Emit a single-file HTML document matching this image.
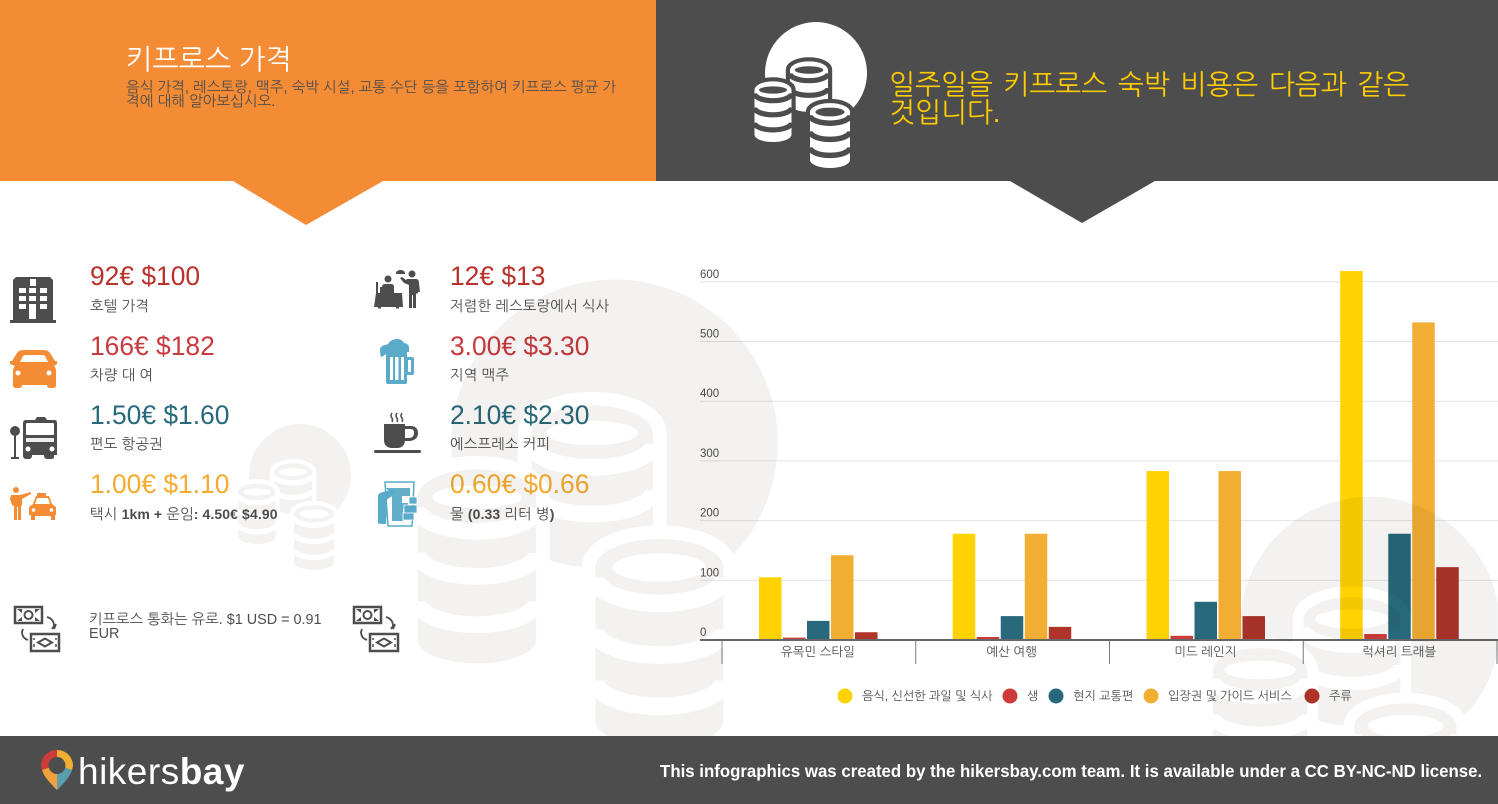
<!DOCTYPE html>
<html lang="ko">
<head>
<meta charset="utf-8">
<title>키프로스 가격</title>
<style>
html,body{margin:0;padding:0;background:#fff;}
#page{position:relative;width:1498px;height:804px;overflow:hidden;background:#fff;font-family:"Liberation Sans","NanumGothic","Noto Sans CJK KR",sans-serif;}
#page>*{position:absolute;}
.t{position:absolute;white-space:nowrap;}
.price{font-size:26.400px;line-height:30px;}
.lbl{font-size:14.500px;line-height:18px;color:#4d4d4d;letter-spacing:.1px;}
.lbl b{font-weight:bold;font-size:14px;}
#icons,#chart,#wm{left:0;top:0;}
#wm{mix-blend-mode:multiply;pointer-events:none;}
</style>
</head>
<body>
<div id="page">
  <div style="left:0;top:0;width:656px;height:181px;background:#f48b35"></div>
  <div style="left:656px;top:0;width:842px;height:181px;background:#4d4d4d"></div>

  <svg id="icons" width="1498" height="804" viewBox="0 0 1498 804">
    <defs>
      <g id="coin-back">
        <path d="M790,70V104.400A19,7.500 0 0 0 828,104.400V70A19,8.600 0 0 0 790,70Z" style="fill:var(--a);stroke:var(--b)" stroke-width="8.400" paint-order="stroke"/>
        <path d="M790,73.400A19,7.300 0 0 0 828,73.400M790,88A19,7.300 0 0 0 828,88" fill="none" style="stroke:var(--b)" stroke-width="5.200"/>
        <ellipse cx="809" cy="70" rx="14.300" ry="3.800" style="fill:var(--b)"/>
      </g>
      <g id="coins">
        <path d="M778.400,107.500A51,51 0 1 1 853.600,107.500Z" style="fill:var(--a)"/>
        <use href="#coin-back"/>
        <path d="M754.500,90V134.700A18.500,7.300 0 0 0 791.500,134.700V90A18.500,8.600 0 0 0 754.500,90Z" style="fill:var(--a);stroke:var(--b)" stroke-width="8.400" paint-order="stroke"/>
        <path d="M754.500,93.400A18.500,7.300 0 0 0 791.500,93.400M754.500,107.500A18.500,7.300 0 0 0 791.500,107.500M754.500,122.600A18.500,7.300 0 0 0 791.500,122.600" fill="none" style="stroke:var(--b)" stroke-width="5.200"/>
        <ellipse cx="773" cy="90" rx="14" ry="3.600" style="fill:var(--b)"/>
        <path d="M810,112V160A20,8 0 0 0 850,160V112A20,8.900 0 0 0 810,112Z" style="fill:var(--a);stroke:var(--b)" stroke-width="8.400" paint-order="stroke"/>
        <path d="M810,115.200A20,8 0 0 0 850,115.200M810,131.400A20,8 0 0 0 850,131.400M810,147.400A20,8 0 0 0 850,147.400" fill="none" style="stroke:var(--b)" stroke-width="5.500"/>
        <ellipse cx="830" cy="112" rx="14.600" ry="4.400" style="fill:var(--b)"/>
      </g>
      <g id="coins-cropped">
        <path d="M778.400,107.500A51,51 0 1 1 866.200,64L866.200,82A51,51 0 0 1 853.600,107.500Z" style="fill:var(--a)"/>
        <use href="#coin-back"/>
        <path d="M754.500,90V130H791.500V90A18.500,8.600 0 0 0 754.500,90Z" style="fill:var(--a);stroke:var(--b)" stroke-width="8.400" paint-order="stroke"/>
        <path d="M754.500,93.400A18.500,7.300 0 0 0 791.500,93.400M754.500,107.500A18.500,7.300 0 0 0 791.500,107.500" fill="none" style="stroke:var(--b)" stroke-width="5.200"/>
        <ellipse cx="773" cy="90" rx="14" ry="3.600" style="fill:var(--b)"/>
        <path d="M810,112V130H850V112A20,8.900 0 0 0 810,112Z" style="fill:var(--a);stroke:var(--b)" stroke-width="8.400" paint-order="stroke"/>
        <path d="M810,115.200A20,8 0 0 0 850,115.200" fill="none" style="stroke:var(--b)" stroke-width="5.500"/>
        <ellipse cx="830" cy="112" rx="14.600" ry="4.400" style="fill:var(--b)"/>
      </g>
      <g id="money">
        <rect x="15" y="607" width="27" height="16" fill="none" stroke="#4d4d4d" stroke-width="2.500"/>
        <circle cx="28.500" cy="615" r="4" fill="none" stroke="#4d4d4d" stroke-width="2"/>
        <path d="M17,609l5,4v-4zM40,609l-5,4v-4zM17,621l5,-4v4zM40,621l-5,-4v4z" fill="#4d4d4d"/>
        <rect x="31" y="634" width="28" height="17" fill="none" stroke="#4d4d4d" stroke-width="2.500"/>
        <path d="M38,642.500l7,-4l7,4l-7,4z" fill="none" stroke="#4d4d4d" stroke-width="2"/>
        <path d="M34,638v2M34,644v3M56,638v2M56,644v3" stroke="#4d4d4d" stroke-width="1.500"/>
        <path d="M47,617q7,2 7,9l-2,3M56,624l-2,5" fill="none" stroke="#4d4d4d" stroke-width="1.800"/>
        <path d="M28,640q-6,-2 -6,-8l1,-3" fill="none" stroke="#4d4d4d" stroke-width="1.800"/>
      </g>
    </defs>
    <polygon points="233,181 383,181 306,225" fill="#f48b35"/>
    <polygon points="1010,181 1155,181 1082,223" fill="#4d4d4d"/>
    <g style="--a:#fff;--b:#4d4d4d"><use href="#coins"/></g>

    <g fill="#4d4d4d">
      <path d="M13,322V280l3,-3H50l3,3V322Z"/><rect x="10" y="320" width="46" height="3"/>
      <g fill="#fff">
        <rect x="19" y="288" width="7" height="5"/><rect x="29" y="288" width="7" height="5"/><rect x="40" y="288" width="7" height="5"/>
        <rect x="19" y="296" width="7" height="5"/><rect x="29" y="296" width="7" height="5"/><rect x="40" y="296" width="7" height="5"/>
        <rect x="19" y="304" width="7" height="5"/><rect x="40" y="304" width="7" height="5"/><rect x="29" y="304" width="7" height="15"/>
        <rect x="30" y="279" width="6" height="7"/>
      </g>
    </g>
    <g fill="#f48b35">
      <path d="M12,361l5,-8q2,-3 6,-3h21q4,0 6,3l5,8l2,0v3l-3,2q2,2 2,5v14q0,3 -3,3h-3q-3,0 -3,-3H22q0,3 -3,3h-3q-3,0 -3,-3V371q0,-3 2,-5l-5,-2v-3z"/>
      <path d="M20,362l3,-6q1,-1 3,-1h16q2,0 3,1l3,6z" fill="#fff"/>
      <circle cx="18" cy="373" r="2.500" fill="#fff"/><circle cx="49" cy="373" r="2.500" fill="#fff"/>
    </g>
    <g fill="#4d4d4d">
      <circle cx="15" cy="431" r="5"/><rect x="14" y="434" width="2" height="24"/><rect x="11" y="457" width="8" height="2"/>
      <path d="M26,420h9l2,-3h8l2,3h8q2,0 2,3v32h-3v2q0,2 -3,2h-4q-3,0 -3,-4H32q0,4 -3,4h-3q-3,0 -3,-4V423q0,-3 3,-3z"/>
      <rect x="26" y="423" width="28" height="12" rx="1" fill="#fff"/>
      <path d="M26,438h28v4H26z" fill="#fff" opacity=".9"/>
      <circle cx="28" cy="449" r="2.500" fill="#fff"/><circle cx="52" cy="449" r="2.500" fill="#fff"/>
    </g>
    <g fill="#f48b35">
      <circle cx="16" cy="490" r="3"/>
      <path d="M11,495h9l11,-3v2l-9,5v6l-1,1v14h-3v-13h-1v13h-3v-14l-2,-1l-2,-6z"/>
      <path d="M37,493h9v3h3l3,8l4,3v8h-1v5h-4v-4H35v4h-4v-5h-2v-8l4,-3l3,-8h1z"/>
      <path d="M37,498h11l2,6H35z" fill="#fff"/><circle cx="33.500" cy="510" r="1.800" fill="#fff"/><circle cx="51.500" cy="510" r="1.800" fill="#fff"/>
    </g>
    <g fill="#4d4d4d">
      <path d="M376,293H402L403,307H374Z"/><rect x="378" y="307" width="3" height="1.500"/><rect x="396" y="307" width="3" height="1.500"/>
      <circle cx="388" cy="279" r="3.500"/><path d="M382,293v-6q0,-3 3,-3h6q3,0 3,3v6z"/>
      <rect x="376" y="282" width="2" height="11"/><rect x="380" y="287" width="2" height="6"/>
      <path d="M396,273a4.500,3 0 0 1 9,0z"/><rect x="396" y="273" width="9" height="1"/>
      <circle cx="412" cy="274" r="3.500"/>
      <path d="M407,279h9q3,0 3,4l1,9h-2v1l-2,1v14h-3v-13h-1v13h-3v-23l-5,-2l-4,-5l2,-1l4,3z"/>
    </g>
    <g fill="#5aabc9">
      <path d="M380,350q0,-4 5,-5q1,0 3,-1q3,-5 9,-5q5,0 7,4q4,0 5,4v5H386v2q-2,2 -5,3q-1,-3 -1,-7z"/>
      <path d="M386,352H407V357H412q2,0 2,2V373q0,2 -2,2H407V382q0,2 -2,2H388q-2,0 -2,-2Z"/>
      <g fill="#fff"><rect x="390" y="357" width="3" height="23"/><rect x="395" y="357" width="3.500" height="23"/><rect x="401" y="357" width="3" height="23"/><rect x="408" y="360" width="3" height="12"/></g>
    </g>
    <g fill="#4d4d4d">
      <path d="M384,424H405V426H412Q418,427 418,433Q418,440 410,441H405Q404,448 397,448H391Q384,447 384,440Z"/>
      <path d="M405,429h6q3,0 3,4q0,4 -4,5h-5z" fill="#fff"/>
      <rect x="374" y="450" width="47" height="3" rx="1.500"/>
      <path d="M392,413q-2,3 0,5q1,2 0,4M397,413q-2,3 0,5q1,2 0,4M402,413q-2,3 0,5q1,2 0,4" fill="none" stroke="#4d4d4d" stroke-width="1.500"/>
    </g>
    <g>
      <path d="M385,482H414L412,526H388Z" fill="none" stroke="#5aabc9" stroke-width="1.500"/>
      <path d="M378,495q3,-3 5,-3l12,-3v5q-3,2 -4,3q-5,2 -4,5l-1,22q-8,0 -8,-1z" fill="#5aabc9"/>
      <path d="M386,488h24v8h-8v7h6v6h-5v12h-11v-25z" fill="#5aabc9" opacity=".95"/>
      <path d="M409,497h8v7h-8zM404,505h13v8h-13zM403,513h11v7h-11z" fill="#5aabc9" stroke="#fff" stroke-width=".8"/>
    </g>
    <g><use href="#money"/></g>
    <g transform="translate(339,0)"><use href="#money"/></g>
  </svg>

  <div class="t" style="left:126px;top:45px;font-size:28px;line-height:30px;color:#fff">키프로스 가격</div>
  <div class="t" style="left:126px;top:81px;width:494px;font-size:14.600px;line-height:14px;color:#4d4d4d;white-space:normal;word-break:break-all">음식 가격, 레스토랑, 맥주, 숙박 시설, 교통 수단 등을 포함하여 키프로스 평균 가격에 대해 알아보십시오.</div>
  <div class="t" style="left:889px;top:71px;width:525px;font-size:27.600px;line-height:28px;word-spacing:3px;color:#ffcc00;white-space:normal">일주일을 키프로스 숙박 비용은 다음과 같은 것입니다.</div>

  <div class="t price" style="left:90px;top:261px;color:#b8322a">92€ $100</div>
  <div class="t lbl" style="left:90px;top:298px">호텔 가격</div>
  <div class="t price" style="left:90px;top:331px;color:#c93a3e">166€ $182</div>
  <div class="t lbl" style="left:90px;top:367px">차량 대 여</div>
  <div class="t price" style="left:90px;top:400px;color:#27697a">1.50€ $1.60</div>
  <div class="t lbl" style="left:90px;top:436px">편도 항공권</div>
  <div class="t price" style="left:90px;top:469px;color:#f4ab2f">1.00€ $1.10</div>
  <div class="t lbl" style="left:90px;top:505px">택시 <b>1km +</b> 운임<b>: 4.50€ $4.90</b></div>

  <div class="t price" style="left:450px;top:261px;color:#b8322a">12€ $13</div>
  <div class="t lbl" style="left:450px;top:298px">저렴한 레스토랑에서 식사</div>
  <div class="t price" style="left:450px;top:331px;color:#c93a3e">3.00€ $3.30</div>
  <div class="t lbl" style="left:450px;top:367px">지역 맥주</div>
  <div class="t price" style="left:450px;top:400px;color:#27697a">2.10€ $2.30</div>
  <div class="t lbl" style="left:450px;top:436px">에스프레소 커피</div>
  <div class="t price" style="left:450px;top:469px;color:#f4ab2f">0.60€ $0.66</div>
  <div class="t lbl" style="left:450px;top:505px">물 <b>(0.33</b> 리터 병<b>)</b></div>

  <div class="t" style="left:89px;top:613px;width:240px;font-size:14.400px;line-height:14px;color:#4d4d4d;white-space:normal">키프로스 통화는 유로. $1 USD = 0.91 EUR</div>

  <svg id="chart" width="1498" height="804" viewBox="0 0 1498 804"></svg>

  <svg id="wm" width="1498" height="736" viewBox="0 0 1498 736" style="--a:#f3f2f1;--b:#fff">
    <g transform="translate(-516,402)"><use href="#coins"/></g>
    <g transform="translate(-1996.600,209) scale(3.200)"><use href="#coins"/></g>
    <g transform="translate(-711,440.500) scale(2.550)"><use href="#coins-cropped"/></g>
  </svg>

  <div style="left:0;top:736px;width:1498px;height:68px;background:#4d4d4d"></div>
  <svg style="left:41px;top:750px" width="32" height="41" viewBox="0 0 32 41">
    <path d="M16,0C7,0 0,7 0,16Q0,18 1,20L16,15Z" fill="#cc3a3a"/>
    <path d="M16,0C25,0 32,7 32,16L31,20L16,15Z" fill="#f2ae33"/>
    <path d="M1,20C3,27 10,34 16,40V15Z" fill="#f2a23c"/>
    <path d="M31,20C29,27 22,34 16,40V15Z" fill="#5a9dab"/>
    <circle cx="16" cy="15.500" r="8.500" fill="#4d4d4d"/>
  </svg>
  <div class="t" style="left:78px;top:747px;font-size:37px;line-height:50px;color:#fff;letter-spacing:.5px">hikers<b>bay</b></div>
  <div class="t" style="right:16px;top:760px;font-size:17.400px;line-height:22px;color:#fff;font-weight:bold;transform:scaleX(.967);transform-origin:right center">This infographics was created by the hikersbay.com team. It is available under a CC BY-NC-ND license.</div>
</div>

<script>
var categories = ['유목민 스타일', '예산 여행', '미드 레인지', '럭셔리 트래블'];
var seriesNames = ['음식, 신선한 과일 및 식사', '생', '현지 교통편', '입장권 및 가이드 서비스', '주류'];
var foodValues = [105, 178, 283, 618];
var beerValues = [4, 5, 7, 10];
var transportValues = [32, 40, 64, 178];
var ticketValues = [142, 178, 283, 532];
var alcoholValues = [13, 22, 40, 122];
var yTicks = [0, 100, 200, 300, 400, 500, 600];

(function () {
  var NS = 'http://www.w3.org/2000/svg';
  var svg = document.getElementById('chart');
  var series = [foodValues, beerValues, transportValues, ticketValues, alcoholValues];
  var colors = ['#ffd200', '#cc3a3a', '#27697a', '#f2ae33', '#ae3329'];
  var legendDotX = [845, 1010, 1056, 1151, 1312];
  var plot = { left: 722, right: 1497, zero: 640, pxPerUnit: 0.597 };
  var bandWidth = (plot.right - plot.left) / categories.length;

  function y(v) { return plot.zero - v * plot.pxPerUnit; }
  function bandX(i) { return plot.left + i * bandWidth; }
  function barX(i, s) { return bandX(i) + 37 + s * 24; }

  function make(tag, attrs, parent, text) {
    var el = document.createElementNS(NS, tag);
    for (var k in attrs) { el.setAttribute(k, attrs[k]); }
    if (text !== undefined) { el.textContent = text; }
    parent.appendChild(el);
    return el;
  }
  var font = '"Liberation Sans","NanumGothic","Noto Sans CJK KR",sans-serif';

  yTicks.forEach(function (t) {
    if (t > 0) {
      var line = make('line', { x1: 700, x2: 1498, y1: y(t), y2: y(t), stroke: '#e2e2e2', 'stroke-width': 1 }, svg);
      
      
    }
    var lab = make('text', { x: 700, y: y(t) - 4, 'font-size': 11.5, fill: '#4d4d4d', 'font-family': font }, svg, String(t));
    
    
  });

  categories.forEach(function (c, i) {
    series.forEach(function (vals, s) {
      var h = vals[i] * plot.pxPerUnit;
      var bar = make('rect', { x: barX(i, s), y: y(vals[i]), width: 22.500, height: h, fill: colors[s] }, svg);
      
      
    });
    var label = make('text', { x: bandX(i) + bandWidth / 2 - 1, y: 656, 'text-anchor': 'middle', 'font-size': 12.5, fill: '#4d4d4d', 'font-family': font }, svg, c);
    
    
  });

  for (var i = 0; i <= categories.length; i++) {
    var tick = make('line', { x1: bandX(i), x2: bandX(i), y1: 640, y2: 664, stroke: '#7a7a7a', 'stroke-width': 1 }, svg);
    
    
  }
  var axis = make('line', { x1: 700, x2: 1498, y1: 640, y2: 640, stroke: '#666', 'stroke-width': 2 }, svg);
  
  

  seriesNames.forEach(function (n, s) {
    var dot = make('circle', { cx: legendDotX[s], cy: 696, r: 7.500, fill: colors[s] }, svg);
    
    
    var txt = make('text', { x: legendDotX[s] + 17, y: 700, 'font-size': 12.100, fill: '#4d4d4d', 'font-family': font }, svg, n);
    
    
  });
})();
</script>
</body>
</html>
